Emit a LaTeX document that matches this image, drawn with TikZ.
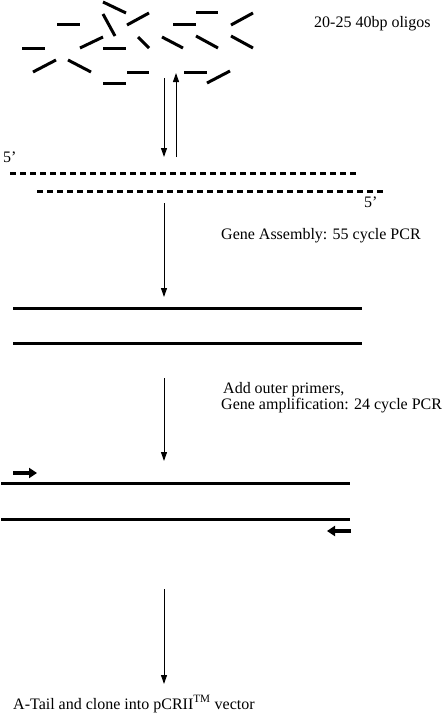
\documentclass[tikz,border=0pt]{standalone}
\usepackage{fontspec}
\setmainfont{Liberation Serif}
\usetikzlibrary{arrows.meta}
\tikzset{
  oligo/.style={line width=3pt},
  strand/.style={line width=3pt},
  dstrand/.style={line width=3pt, dash pattern=on 6pt off 4pt},
  flow/.style={line width=1pt, -{Triangle[length=9pt,width=6pt]}},
  primer/.style={line width=4pt, -{Triangle[length=8pt,width=10pt]}},
  lbl/.style={anchor=west, inner sep=0pt, font=\fontsize{16}{16}\selectfont, align=left}
}
\begin{document}
\begin{tikzpicture}[x=1pt,y=-1pt]
\useasboundingbox (0,0) rectangle (447,717);
% oligos
\foreach \a/\b/\c/\d in {103/2/126/13, 57/25/80/25, 103/14/115/36, 127/25/149/13,
  196/13/218/13, 173/25/196/25, 231/25/253/13, 22/49/45/49, 80/48/103/37,
  103/49/126/49, 138/37/149/48, 162/37/183/48, 196/36/218/48, 231/36/253/48,
  33/72/56/60, 68/60/91/72, 127/72/149/72, 184/72/207/72, 207/83/230/71, 103/83/126/83}
  \draw[oligo] (\a,\b) -- (\c,\d);
\node[lbl] (t1) at (314,24) {20-25 40bp oligos};
% arrows between oligos and assembly
\coordinate (d1s) at (164,78); \coordinate (d1e) at (164,157);
\draw[flow] (d1s) -- (d1e);
\coordinate (u1s) at (176,157); \coordinate (u1e) at (176,73);
\draw[flow] (u1s) -- (u1e);
% dashed strands
\coordinate (a1) at (10,173); \coordinate (a2) at (357,173);
\coordinate (b1) at (37,191); \coordinate (b2) at (386,191);
\draw[dstrand] (a1) -- (a2);
\draw[dstrand] (b1) -- (b2);
\node[lbl] (p1) at (3,157) {5'};
\node[lbl] (p2) at (364,202) {5'};
% arrow 2
\coordinate (d2s) at (164,203); \coordinate (d2e) at (164,297);
\draw[flow] (d2s) -- (d2e);
\node[lbl] (t2) at (221,236) {Gene Assembly: 55 cycle PCR};
% solid strands
\coordinate (c1) at (13,308); \coordinate (c2) at (362,308);
\coordinate (e1) at (13,343); \coordinate (e2) at (362,343);
\draw[strand] (c1) -- (c2);
\draw[strand] (e1) -- (e2);
% arrow 3
\coordinate (d3s) at (164,378); \coordinate (d3e) at (164,461);
\draw[flow] (d3s) -- (d3e);
\node[lbl] (t3) at (221,398) {\hspace*{2pt}Add outer primers,\\Gene amplification: 24 cycle PCR};
% amplified strands
\coordinate (f1) at (1,483); \coordinate (f2) at (350,483);
\coordinate (g1) at (1,519); \coordinate (g2) at (350,519);
\draw[strand] (f1) -- (f2);
\draw[strand] (g1) -- (g2);
% primers
\coordinate (r1) at (13,473); \coordinate (r2) at (37,473);
\draw[primer] (r1) -- (r2);
\coordinate (l1) at (351,531); \coordinate (l2) at (327,531);
\draw[primer] (l1) -- (l2);
% arrow 4
\coordinate (d4s) at (164,589); \coordinate (d4e) at (164,684);
\draw[flow] (d4s) -- (d4e);
\node[lbl] (t4) at (13,704) {A-Tail and clone into pCRII\textsuperscript{TM} vector};
\end{tikzpicture}
\end{document}
